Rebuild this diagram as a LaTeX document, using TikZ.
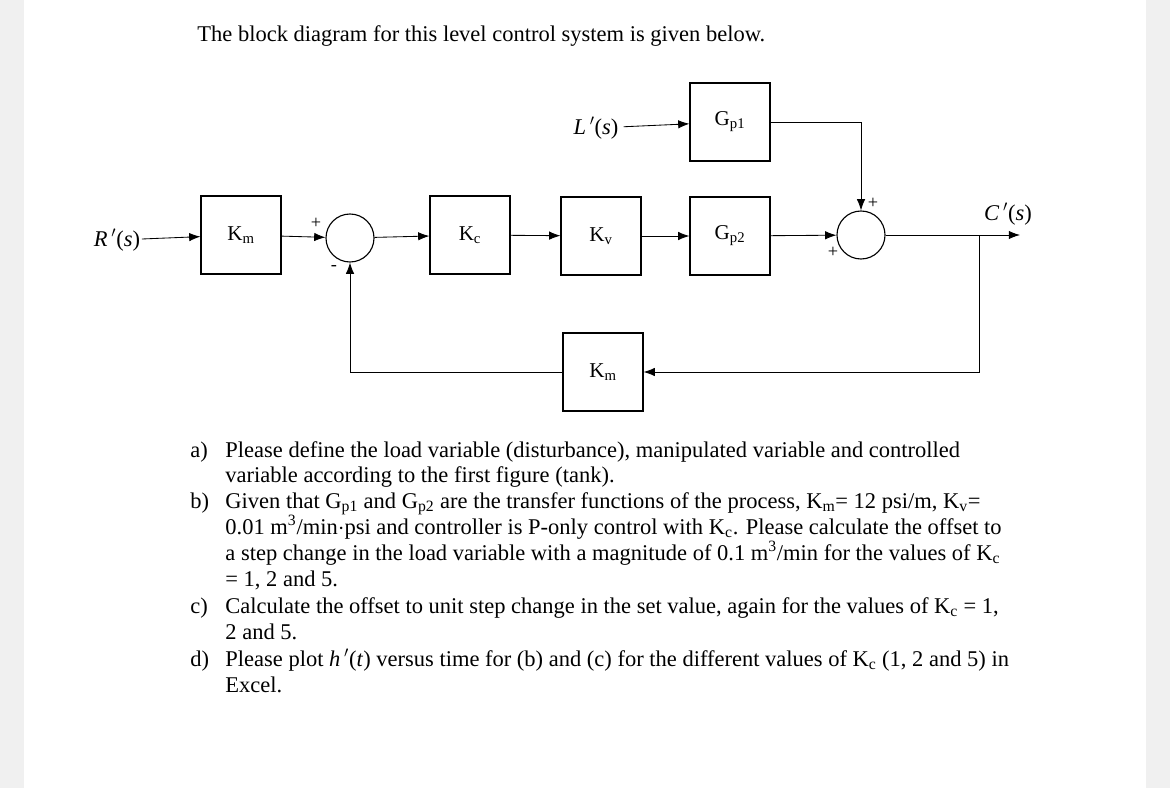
\documentclass[tikz,border=0pt]{standalone}
\usepackage{fontspec}
\setmainfont{Liberation Serif}
\usetikzlibrary{positioning,arrows.meta}
\newcommand{\sbs}[1]{\textsubscript{#1}}
\newcommand{\sig}[2]{\textit{#1}\,$'$(\textit{#2})}
\begin{document}
\begin{tikzpicture}[x=0.025cm,y=-0.025cm,
                    >={Latex[length=8pt,width=6pt]},
                    every path/.style={semithick},
                    block/.style={draw,thick,rectangle,minimum width=2cm,minimum height=1.95cm,font=\fontsize{15}{17}\selectfont},
                    sum/.style={draw,thick,circle,minimum size=1.2cm,inner sep=0pt},
                    sgn/.style={font=\fontsize{13}{15}\selectfont,inner sep=1pt},
                    lbl/.style={font=\fontsize{16}{18}\selectfont},
                    txt/.style={anchor=base west,inner sep=0pt,font=\fontsize{16}{19}\selectfont}
                    ]
        \useasboundingbox (0,0) rectangle (1170,788);
        \fill[gray!12] (0,0) rectangle (24,788);
        \fill[gray!12] (1146,0) rectangle (1170,788);

        \node[txt] (title) at (197,42) {The block diagram for this level control system is given below.};

        % forward path
        \node[lbl,inner sep=1pt] (ref) at (117,240) {\sig{R}{s}};
        \node[block] (km) at (241,235) {K\sbs{m}};
        \node[sum] (sum1) at (350,238) {};
        \node[block] (kc) at (470,235) {K\sbs{c}};
        \node[block] (kv) at (601,236) {K\sbs{v}};
        \node[block] (gp2) at (730,236) {G\sbs{p2}};
        \node[block] (gp1) at (730,122) {G\sbs{p1}};
        \node[lbl] (load) at (596,128) {\sig{L}{s}};
        \node[sum] (sum2) at (861,235) {};
        \coordinate (out) at (1020,235);
        \node[lbl] (cout) at (1008,214) {\sig{C}{s}};
        \node[block] (kmf) at (603,372) {K\sbs{m}};
        \coordinate (tap) at (979,235);

        \draw[->] (ref) -- (km);
        \draw[->] (km) -- (sum1);
        \draw[->] (sum1) -- (kc);
        \draw[->] (kc) -- (kv);
        \draw[->] (kv) -- (gp2);
        \draw[->] (gp2) -- (sum2);
        \draw[->] (load) -- (gp1);
        \draw[->] (gp1.east) -| (sum2.north);
        \draw[->] (sum2) -- (out);
        \draw[->] (tap) |- (kmf.east);
        \draw[->] (kmf.west) -| (sum1.south);

        \node[sgn] at (316,223) {+};
        \node[sgn] at (334,268) {-};
        \node[sgn] at (873,203) {+};
        \node[sgn] at (833,252) {+};

        % questions
        \node[txt] (qa) at (190,457) {a)};
        \node[txt] at (225,457) {Please define the load variable (disturbance), manipulated variable and controlled};
        \node[txt] at (225,482) {variable according to the first figure (tank).};
        \node[txt] (qb) at (190,508) {b)};
        \node[txt] at (225,508) {Given that G\sbs{p1} and G\sbs{p2} are the transfer functions of the process, K\sbs{m}= 12 psi/m, K\sbs{v}=};
        \node[txt] at (225,534) {0.01 m\textsuperscript{3}/min$\cdot$psi and controller is P-only control with K\sbs{c}. Please calculate the offset to};
        \node[txt] at (225,560) {a step change in the load variable with a magnitude of 0.1 m\textsuperscript{3}/min for the values of K\sbs{c}};
        \node[txt] at (225,586) {= 1, 2 and 5.};
        \node[txt] (qc) at (190,613) {c)};
        \node[txt] at (225,613) {Calculate the offset to unit step change in the set value, again for the values of K\sbs{c} = 1,};
        \node[txt] at (225,639) {2 and 5.};
        \node[txt] (qd) at (190,666) {d)};
        \node[txt] at (225,666) {Please plot \sig{h}{t} versus time for (b) and (c) for the different values of K\sbs{c} (1, 2 and 5) in};
        \node[txt] at (225,692) {Excel.};
\end{tikzpicture}
\end{document}
